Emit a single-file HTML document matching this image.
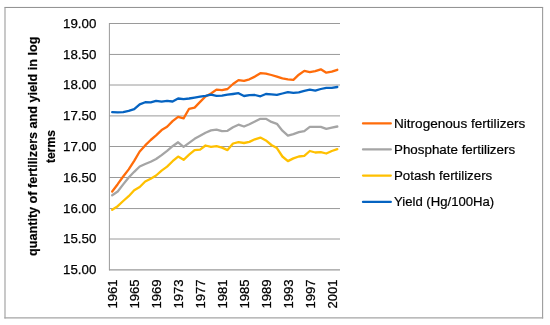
<!DOCTYPE html>
<html><head><meta charset="utf-8"><title>Fertilizers and yield</title>
<style>
html,body{margin:0;padding:0;background:#fff;}
body{width:550px;height:325px;overflow:hidden;}
svg{display:block;}
text{font-family:"Liberation Sans",sans-serif;fill:#000;}
.tick{font-size:13.4px;stroke:#000;stroke-width:0.25px;}
.leg{font-size:13.0px;stroke:#000;stroke-width:0.2px;}
.ttl{font-size:12.6px;font-weight:bold;stroke:#000;stroke-width:0.2px;}
</style></head><body>
<svg width="550" height="325" viewBox="0 0 550 325">
<rect x="0" y="0" width="550" height="325" fill="#fff"/>
<g stroke="#9c9c9c" stroke-width="1.1" fill="none">
<line x1="4.45" y1="7.45" x2="543.15" y2="7.45" stroke="#8e8e8e" stroke-width="1"/>
<line x1="5.0" y1="7.45" x2="5.0" y2="318.5"/>
<line x1="542.6" y1="7.45" x2="542.6" y2="318.5"/>
<line x1="4.45" y1="317.85" x2="543.15" y2="317.85" stroke="#a4a4a4" stroke-width="1.4"/>
</g>

<g stroke="#9a9a9a" stroke-width="1" fill="none">
<line x1="109.0" y1="23.50" x2="340" y2="23.50"/>
<line x1="109.0" y1="54.45" x2="340" y2="54.45"/>
<line x1="109.0" y1="85.00" x2="340" y2="85.00"/>
<line x1="109.0" y1="115.90" x2="340" y2="115.90"/>
<line x1="109.0" y1="146.50" x2="340" y2="146.50"/>
<line x1="109.0" y1="177.50" x2="340" y2="177.50"/>
<line x1="109.0" y1="208.55" x2="340" y2="208.55"/>
<line x1="109.0" y1="239.00" x2="340" y2="239.00"/>
<line x1="109.0" y1="269.85" x2="340" y2="269.85" stroke-width="1.3"/>
<line x1="109.4" y1="23.0" x2="109.4" y2="270.3"/>
</g>
<text class="tick" x="96.3" y="27.7" text-anchor="end" textLength="33.3" lengthAdjust="spacingAndGlyphs">19.00</text>
<text class="tick" x="96.3" y="58.7" text-anchor="end" textLength="33.3" lengthAdjust="spacingAndGlyphs">18.50</text>
<text class="tick" x="96.3" y="89.2" text-anchor="end" textLength="33.3" lengthAdjust="spacingAndGlyphs">18.00</text>
<text class="tick" x="96.3" y="120.1" text-anchor="end" textLength="33.3" lengthAdjust="spacingAndGlyphs">17.50</text>
<text class="tick" x="96.3" y="150.7" text-anchor="end" textLength="33.3" lengthAdjust="spacingAndGlyphs">17.00</text>
<text class="tick" x="96.3" y="181.7" text-anchor="end" textLength="33.3" lengthAdjust="spacingAndGlyphs">16.50</text>
<text class="tick" x="96.3" y="212.8" text-anchor="end" textLength="33.3" lengthAdjust="spacingAndGlyphs">16.00</text>
<text class="tick" x="96.3" y="243.2" text-anchor="end" textLength="33.3" lengthAdjust="spacingAndGlyphs">15.50</text>
<text class="tick" x="96.3" y="274.1" text-anchor="end" textLength="33.3" lengthAdjust="spacingAndGlyphs">15.00</text>
<text class="tick" transform="translate(116.9,308.6) rotate(-90)" textLength="29.0" lengthAdjust="spacingAndGlyphs">1961</text>
<text class="tick" transform="translate(138.9,308.6) rotate(-90)" textLength="29.0" lengthAdjust="spacingAndGlyphs">1965</text>
<text class="tick" transform="translate(160.8,308.6) rotate(-90)" textLength="29.0" lengthAdjust="spacingAndGlyphs">1969</text>
<text class="tick" transform="translate(182.8,308.6) rotate(-90)" textLength="29.0" lengthAdjust="spacingAndGlyphs">1973</text>
<text class="tick" transform="translate(204.8,308.6) rotate(-90)" textLength="29.0" lengthAdjust="spacingAndGlyphs">1977</text>
<text class="tick" transform="translate(226.7,308.6) rotate(-90)" textLength="29.0" lengthAdjust="spacingAndGlyphs">1981</text>
<text class="tick" transform="translate(248.7,308.6) rotate(-90)" textLength="29.0" lengthAdjust="spacingAndGlyphs">1985</text>
<text class="tick" transform="translate(270.6,308.6) rotate(-90)" textLength="29.0" lengthAdjust="spacingAndGlyphs">1989</text>
<text class="tick" transform="translate(292.6,308.6) rotate(-90)" textLength="29.0" lengthAdjust="spacingAndGlyphs">1993</text>
<text class="tick" transform="translate(314.5,308.6) rotate(-90)" textLength="29.0" lengthAdjust="spacingAndGlyphs">1997</text>
<text class="tick" transform="translate(336.5,308.6) rotate(-90)" textLength="29.0" lengthAdjust="spacingAndGlyphs">2001</text>
<polyline points="112.2,191.5 117.7,184.2 123.2,176.5 128.7,169.4 134.2,160.8 139.7,151.5 145.2,145.4 150.7,140.0 156.1,135.4 161.6,130.1 167.1,126.8 172.6,121.1 178.1,116.8 183.6,118.4 189.1,108.8 194.6,107.6 200.1,101.9 205.5,96.5 211.0,93.5 216.5,89.6 222.0,90.1 227.5,89.0 233.0,84.0 238.5,80.1 244.0,80.9 249.4,79.3 254.9,76.6 260.4,73.2 265.9,73.7 271.4,75.0 276.9,76.6 282.4,78.4 287.9,79.3 293.4,79.8 298.8,74.7 304.3,70.9 309.8,72.1 315.3,71.2 320.8,69.3 326.3,72.7 331.8,71.7 337.3,69.8" fill="none" stroke="#ff6c0a" stroke-width="2.3" stroke-linejoin="round" stroke-linecap="round"/>
<polyline points="112.2,195.3 117.7,191.5 123.2,184.4 128.7,177.5 134.2,171.8 139.7,166.5 145.2,164.0 150.7,161.7 156.1,159.0 161.6,155.1 167.1,150.8 172.6,146.2 178.1,142.3 183.6,146.9 189.1,142.9 194.6,138.8 200.1,135.8 205.5,132.7 211.0,130.4 216.5,129.6 222.0,131.2 227.5,130.8 233.0,127.3 238.5,124.7 244.0,126.5 249.4,124.2 254.9,121.5 260.4,118.8 265.9,118.8 271.4,121.9 276.9,123.8 282.4,130.7 287.9,135.6 293.4,134.1 298.8,132.2 304.3,131.1 309.8,126.8 315.3,126.8 320.8,126.8 326.3,128.8 331.8,127.6 337.3,126.5" fill="none" stroke="#a5a5a5" stroke-width="2.3" stroke-linejoin="round" stroke-linecap="round"/>
<polyline points="112.2,209.8 117.7,206.2 123.2,201.0 128.7,196.2 134.2,190.3 139.7,187.0 145.2,181.5 150.7,178.8 156.1,175.5 161.6,170.6 167.1,166.6 172.6,161.2 178.1,156.6 183.6,159.8 189.1,154.7 194.6,150.1 200.1,149.6 205.5,145.5 211.0,146.8 216.5,146.2 222.0,147.6 227.5,150.1 233.0,143.5 238.5,142.1 244.0,143.0 249.4,141.9 254.9,139.3 260.4,137.6 265.9,140.4 271.4,145.0 276.9,148.1 282.4,156.5 287.9,161.1 293.4,158.4 298.8,156.5 304.3,155.8 309.8,151.0 315.3,152.5 320.8,152.2 326.3,153.5 331.8,151.0 337.3,149.1" fill="none" stroke="#ffc000" stroke-width="2.3" stroke-linejoin="round" stroke-linecap="round"/>
<polyline points="112.2,112.2 117.7,112.4 123.2,112.1 128.7,110.9 134.2,109.2 139.7,104.4 145.2,102.2 150.7,102.4 156.1,100.8 161.6,101.6 167.1,100.8 172.6,101.5 178.1,98.5 183.6,99.2 189.1,98.5 194.6,97.6 200.1,96.7 205.5,95.8 211.0,94.7 216.5,95.8 222.0,95.6 227.5,94.7 233.0,94.0 238.5,93.2 244.0,96.0 249.4,95.2 254.9,95.0 260.4,96.3 265.9,94.0 271.4,94.4 276.9,94.9 282.4,93.5 287.9,92.1 293.4,92.9 298.8,92.4 304.3,90.9 309.8,89.7 315.3,90.6 320.8,89.0 326.3,87.8 331.8,87.8 337.3,87.0" fill="none" stroke="#0563c1" stroke-width="2.3" stroke-linejoin="round" stroke-linecap="round"/>
<line x1="363" y1="123.4" x2="390.8" y2="123.4" stroke="#ff6c0a" stroke-width="2.3" stroke-linecap="round"/>
<text class="leg" x="394" y="127.7" textLength="131.3" lengthAdjust="spacingAndGlyphs">Nitrogenous fertilizers</text>
<line x1="363" y1="149.4" x2="390.8" y2="149.4" stroke="#a5a5a5" stroke-width="2.3" stroke-linecap="round"/>
<text class="leg" x="394" y="153.7" textLength="121.1" lengthAdjust="spacingAndGlyphs">Phosphate fertilizers</text>
<line x1="363" y1="175.6" x2="390.8" y2="175.6" stroke="#ffc000" stroke-width="2.3" stroke-linecap="round"/>
<text class="leg" x="394" y="179.9" textLength="98.2" lengthAdjust="spacingAndGlyphs">Potash fertilizers</text>
<line x1="363" y1="201.9" x2="390.8" y2="201.9" stroke="#0563c1" stroke-width="2.3" stroke-linecap="round"/>
<text class="leg" x="394" y="206.2" textLength="100.2" lengthAdjust="spacingAndGlyphs">Yield (Hg/100Ha)</text>
<text class="ttl" transform="translate(37.1,146.3) rotate(-90)" text-anchor="middle" textLength="219.3" lengthAdjust="spacingAndGlyphs">quantity of fertilizers and yield in log</text>
<text class="ttl" transform="translate(55.1,146.5) rotate(-90)" text-anchor="middle" textLength="33" lengthAdjust="spacingAndGlyphs">terms</text>
</svg></body></html>
